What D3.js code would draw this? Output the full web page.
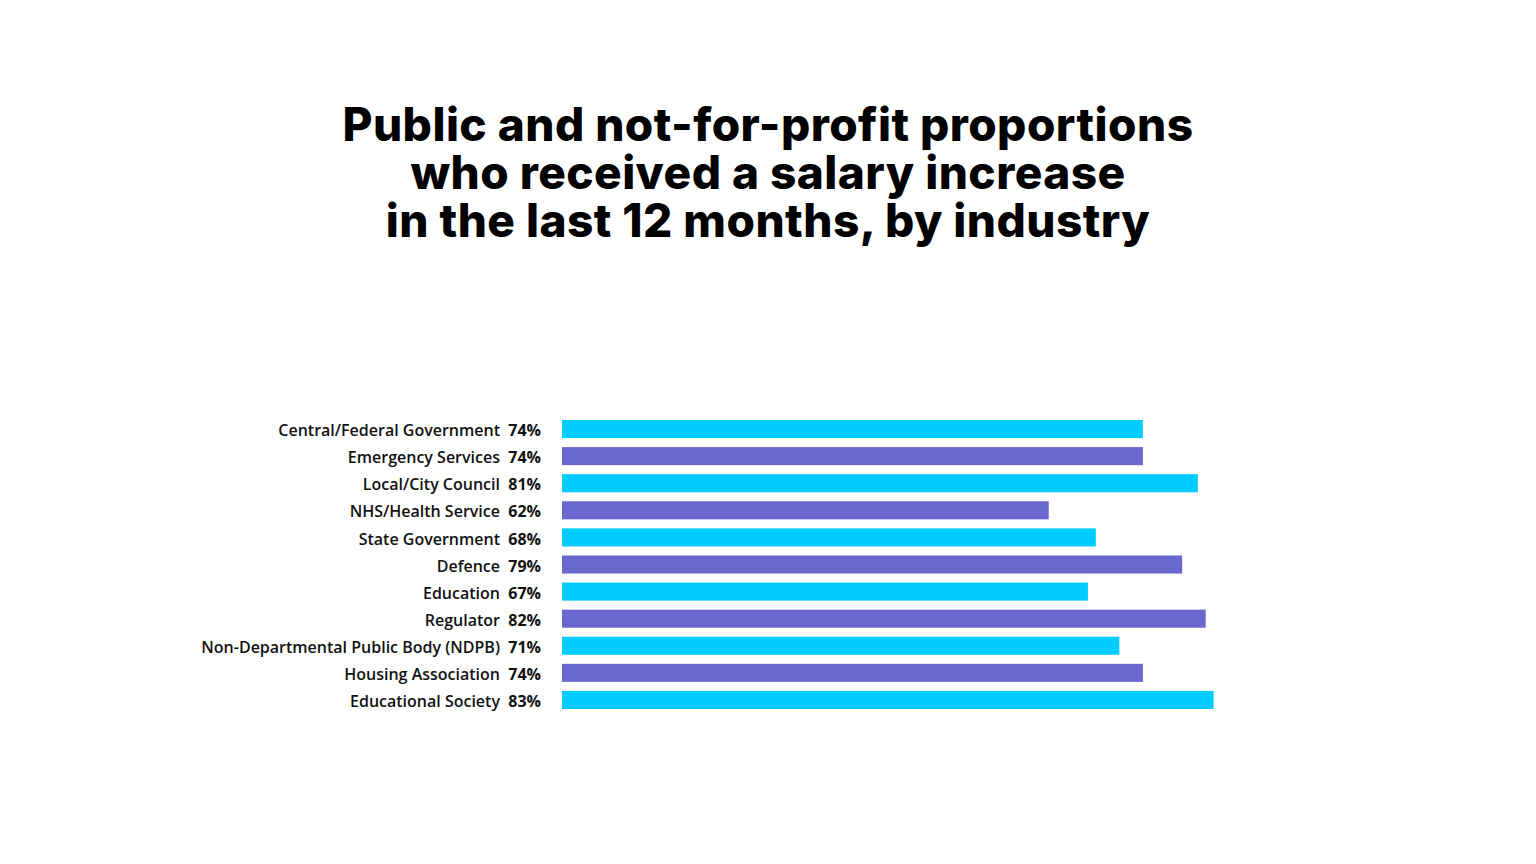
<!DOCTYPE html>
<html><head><meta charset="utf-8">
<script src="https://cdn.jsdelivr.net/npm/d3@7"></script>
<style>body{margin:0;background:#fff}</style>
</head><body>
<script>
const categories = ["Central/Federal Government","Emergency Services","Local/City Council","NHS/Health Service","State Government","Defence","Education","Regulator","Non-Departmental Public Body (NDPB)","Housing Association","Educational Society"];
const values = [74,74,81,62,68,79,67,82,71,74,83];
const titleLines = ["Public and not-for-profit proportions","who received a salary increase","in the last 12 months, by industry"];
const colors = ["#00CCFF","#6A67CE"];

const W=1536,H=864;
const svg=d3.select("body").append("svg").attr("width",W).attr("height",H);

svg.append("g").selectAll("text").data(titleLines).join("text")
  .attr("x",768).attr("y",(d,i)=>141+i*48)
  .attr("text-anchor","middle")
  .style("font-family","Inter").style("font-weight",800).style("font-size","46px")
  .style("letter-spacing","0.45px")
  .attr("fill","#000").text(d=>d);

const x=d3.scaleLinear().domain([0,100]).range([562,1347]);
const y=d3.scaleBand().domain(categories).range([415.5,713.5]).paddingInner(0.333).paddingOuter(0.1665);

svg.append("g").selectAll("rect").data(categories).join("rect")
  .attr("x",x(0)).attr("y",d=>y(d)).attr("height",y.bandwidth())
  .attr("width",(d,i)=>x(values[i])-x(0))
  .attr("fill",(d,i)=>colors[i%2]);

const lab=svg.append("g").selectAll("text").data(categories).join("text")
  .attr("x",541).attr("y",d=>y(d)+y.bandwidth()/2+1.5).attr("dy","0.35em")
  .attr("text-anchor","end")
  .style("font-family","'Open Sans'").style("font-weight",600).style("font-size","16px").attr("fill","#111");
lab.append("tspan").text(d=>d+"  ").style("white-space","pre");
lab.append("tspan").style("font-weight",700).text((d,i)=>values[i]+"%");
</script>
</body></html>
